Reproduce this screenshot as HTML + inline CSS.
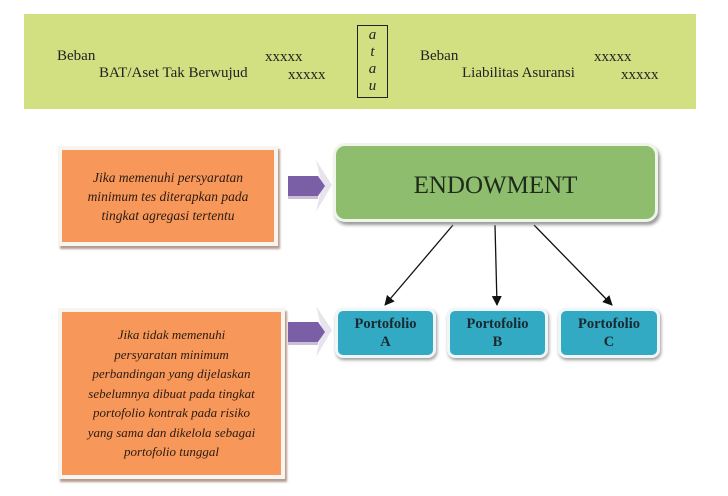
<!DOCTYPE html>
<html><head><meta charset="utf-8"><style>
body{margin:0;width:728px;height:496px;background:#fff;position:relative;overflow:hidden;font-family:"Liberation Serif",serif}
.a{position:absolute}
.t{position:absolute;font-size:15px;color:#222;white-space:nowrap}
.or{position:absolute;background:#f7985a;border:4px solid #f8f4ef;box-shadow:2px 3px 2px #b59b8e;display:flex;align-items:center;justify-content:center;text-align:center;font-style:italic;color:#2a1a10;font-size:13.5px;line-height:19px}
.pf{position:absolute;background:#33aac4;border:3px solid #eef6f7;border-radius:8px;box-shadow:1px 2px 3px #999;display:flex;align-items:center;justify-content:center;text-align:center;font-weight:bold;font-size:14.5px;line-height:18px;color:#1a2a30;box-sizing:border-box}
</style></head><body>
<div class="a" style="left:24px;top:14px;width:672px;height:95px;background:#d3e081"></div>
<div class="t" style="left:57px;top:48px">Beban</div>
<div class="t" style="left:265px;top:49px">xxxxx</div>
<div class="t" style="left:99px;top:65px">BAT/Aset Tak Berwujud</div>
<div class="t" style="left:288px;top:67px">xxxxx</div>
<div class="a" style="left:357px;top:25px;width:31px;height:73px;border:1px solid #222;text-align:center;font-style:italic;font-size:15px;line-height:17px;color:#222;padding-top:1px;box-sizing:border-box">a<br>t<br>a<br>u</div>
<div class="t" style="left:420px;top:48px">Beban</div>
<div class="t" style="left:594px;top:49px">xxxxx</div>
<div class="t" style="left:462px;top:65px">Liabilitas Asuransi</div>
<div class="t" style="left:621px;top:67px">xxxxx</div>

<div class="or" style="left:58px;top:146px;width:212px;height:92px">Jika memenuhi persyaratan<br>minimum tes diterapkan pada<br>tingkat agregasi tertentu</div>
<div class="or" style="left:58px;top:308px;width:219px;height:163px;font-size:13px;line-height:19.5px">Jika tidak memenuhi<br>persyaratan minimum<br>perbandingan yang dijelaskan<br>sebelumnya dibuat pada tingkat<br>portofolio kontrak pada risiko<br>yang sama dan dikelola sebagai<br>portofolio tunggal</div>

<svg class="a" style="left:0;top:0" width="728" height="496">
<defs><marker id="m" markerWidth="10" markerHeight="10" refX="9" refY="5" orient="auto" markerUnits="userSpaceOnUse"><path d="M0,0 L10,5 L0,10 z" fill="#111"/></marker></defs>
<g><polygon points="316,160 332,185 316,212 322,185" fill="#e8e4ee"/><rect x="288" y="176" width="30" height="20" fill="#7b5fa6"/><polygon points="318,176 325,186 318,196" fill="#7b5fa6"/><rect x="288" y="196" width="30" height="3" fill="#c9c0d6"/></g>
<g><polygon points="316,306 332,330 316,357 322,330" fill="#e8e4ee"/><rect x="288" y="322" width="30" height="20" fill="#7b5fa6"/><polygon points="318,322 325,332 318,342" fill="#7b5fa6"/><rect x="288" y="342" width="30" height="3" fill="#c9c0d6"/></g>
<line x1="453" y1="225" x2="385" y2="305" stroke="#111" stroke-width="1.3" marker-end="url(#m)"/>
<line x1="495" y1="225" x2="497" y2="305" stroke="#111" stroke-width="1.3" marker-end="url(#m)"/>
<line x1="534" y1="225" x2="612" y2="305" stroke="#111" stroke-width="1.3" marker-end="url(#m)"/>
</svg>

<div class="a" style="left:333px;top:143px;width:325px;height:79px;background:#8dbd6d;border:3px solid #f0f5ea;border-radius:12px;box-shadow:2px 3px 3px #999;box-sizing:border-box;display:flex;align-items:center;justify-content:center;font-size:25px;color:#1e2a1a;padding-top:6px">ENDOWMENT</div>
<div class="pf" style="left:335px;top:308px;width:101px;height:50px">Portofolio<br>A</div>
<div class="pf" style="left:447px;top:308px;width:101px;height:50px">Portofolio<br>B</div>
<div class="pf" style="left:558px;top:308px;width:102px;height:50px">Portofolio<br>C</div>
</body></html>
